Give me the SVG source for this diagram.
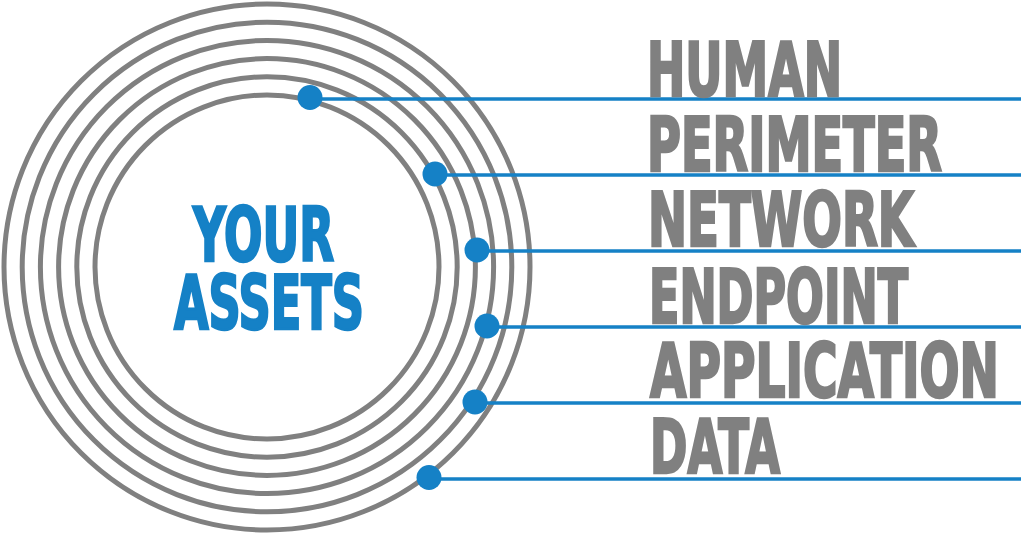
<svg xmlns="http://www.w3.org/2000/svg" width="1024" height="535" viewBox="0 0 1024 535">
<style>
.ring{fill:none;stroke:#808080;stroke-width:5}
.lbl{font-family:"DejaVu Sans Condensed","Liberation Sans Narrow","Liberation Sans",sans-serif;font-weight:bold;font-size:74px;fill:#808080;stroke:#808080;stroke-width:2.6;stroke-linejoin:miter}
.core{font-family:"DejaVu Sans Condensed","Liberation Sans Narrow","Liberation Sans",sans-serif;font-weight:bold;font-size:74px;fill:#1581c6;stroke:#1581c6;stroke-width:2.6;stroke-linejoin:miter}
.con{stroke:#1581c6;stroke-width:3.5;fill:none}
.dot{fill:#1581c6}
</style>
<rect width="1024" height="535" fill="#ffffff"/>
<g id="rings">
<circle class="ring" cx="267" cy="267" r="172"/>
<circle class="ring" cx="267" cy="267" r="190.2"/>
<circle class="ring" cx="267" cy="267" r="208.4"/>
<circle class="ring" cx="267" cy="267" r="226.6"/>
<circle class="ring" cx="267" cy="267" r="244.8"/>
<circle class="ring" cx="267" cy="267" r="263"/>
</g>
<g id="center">
<text class="core" x="193" y="261" textLength="141" lengthAdjust="spacingAndGlyphs">YOUR</text>
<text class="core" x="174" y="329" textLength="190" lengthAdjust="spacingAndGlyphs">ASSETS</text>
</g>
<g id="connectors">
<line class="con" x1="310" y1="99" x2="1021" y2="99"/>
<line class="con" x1="435" y1="175" x2="1021" y2="175"/>
<line class="con" x1="477" y1="251" x2="1021" y2="251"/>
<line class="con" x1="487" y1="327" x2="1021" y2="327"/>
<line class="con" x1="475" y1="403" x2="1021" y2="403"/>
<line class="con" x1="429" y1="479" x2="1021" y2="479"/>
</g>
<g id="human">
<circle class="dot" cx="310" cy="97.5" r="12.5"/>
<text class="lbl" x="647" y="96" textLength="195" lengthAdjust="spacingAndGlyphs">HUMAN</text>
</g>
<g id="perimeter">
<circle class="dot" cx="435" cy="174" r="12.5"/>
<text class="lbl" x="647" y="171" textLength="295" lengthAdjust="spacingAndGlyphs">PERIMETER</text>
</g>
<g id="network">
<circle class="dot" cx="477" cy="250" r="12.5"/>
<text class="lbl" x="648" y="246" textLength="266" lengthAdjust="spacingAndGlyphs">NETWORK</text>
</g>
<g id="endpoint">
<circle class="dot" cx="487" cy="326" r="12.5"/>
<text class="lbl" x="649" y="323" textLength="259" lengthAdjust="spacingAndGlyphs">ENDPOINT</text>
</g>
<g id="application">
<circle class="dot" cx="475" cy="402" r="12.5"/>
<text class="lbl" x="650" y="397" textLength="349" lengthAdjust="spacingAndGlyphs">APPLICATION</text>
</g>
<g id="data">
<circle class="dot" cx="429" cy="477.5" r="12.5"/>
<text class="lbl" x="650" y="473" textLength="130" lengthAdjust="spacingAndGlyphs">DATA</text>
</g>
</svg>
